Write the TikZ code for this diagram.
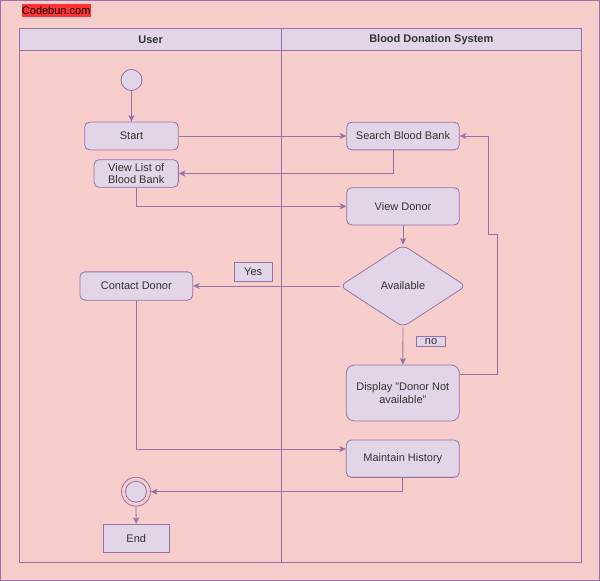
\documentclass[tikz,border=0pt]{standalone}
\usepackage{fontspec}
\setmainfont{Liberation Sans}
\usetikzlibrary{shapes.geometric,arrows.meta,calc}
\definecolor{bgpink}{HTML}{F8CECC}
\definecolor{boxfill}{HTML}{E1D5E7}
\definecolor{boxline}{HTML}{9673A6}
\definecolor{txt}{HTML}{333333}
\definecolor{tagred}{HTML}{FF3333}
\begin{document}
\begin{tikzpicture}[x=1pt,y=-1pt,
  every node/.style={font=\fontsize{11}{13}\selectfont, text=txt},
  act/.style={draw=boxline, fill=boxfill, line width=0.8pt, rounded corners=5pt, align=center, inner sep=1pt},
  decis/.style={draw=boxline, fill=boxfill, line width=0.8pt, diamond, rounded corners=6pt, inner sep=0pt},
  lbl/.style={draw=boxline, fill=boxfill, line width=0.8pt, inner sep=0pt},
  conn/.style={draw=boxline, line width=0.8pt, -{Stealth[length=6.5pt,width=6pt,inset=1.5pt]}},
  plain/.style={draw=boxline, line width=0.8pt}
]
% background
\fill[bgpink] (0,0) rectangle (600,581);
\draw[boxline, line width=0.8pt] (0.5,0.5) rectangle (599.5,580.5);
\useasboundingbox (0,0) rectangle (600,581);

% tag
\node[fill=tagred, text=black, inner sep=0pt, minimum width=69pt, minimum height=12.7pt] (tag) at (56.2,10.4) {Codebun.com};

% swimlanes
\draw[boxline, fill=boxfill, line width=0.8pt] (19.5,28) rectangle (581,50);
\draw[boxline, line width=0.8pt] (19.5,50) rectangle (581,562);
\draw[boxline, line width=0.8pt] (281.7,28) -- (281.7,562);
\node[font=\bfseries\fontsize{11}{13}\selectfont] (laneU) at (150.6,39.5) {User};
\node[font=\bfseries\fontsize{11}{13}\selectfont] (laneS) at (431.3,39.5) {Blood Donation System};

% nodes
\node[circle, draw=boxline, fill=boxfill, line width=0.8pt, minimum size=21pt, inner sep=0pt] (sc) at (131.5,80) {};
\node[act, minimum width=93.6pt, minimum height=28pt] (start) at (131.5,136) {Start};
\node[act, minimum width=84.3pt, minimum height=27.6pt, font=\fontsize{11}{12}\selectfont] (vlist) at (136.2,173.5) {View List of\\Blood Bank};
\node[act, minimum width=112.6pt, minimum height=27.7pt] (search) at (403,136) {Search Blood Bank};
\node[act, minimum width=112.6pt, minimum height=37.3pt] (vdonor) at (403,206.3) {View Donor};
\node[decis, minimum width=126pt, minimum height=82pt] (avail) at (403,286) {Available};
\node[act, minimum width=112.7pt, minimum height=28.3pt] (contact) at (136.3,286) {Contact Donor};
\node[act, minimum width=113pt, minimum height=56pt, rounded corners=8pt, font=\fontsize{11}{13}\selectfont] (display) at (402.8,393) {Display "Donor Not\\available"};
\node[act, minimum width=113pt, minimum height=37.3pt] (maintain) at (402.8,458.7) {Maintain History};
\node[circle, draw=boxline, line width=0.8pt, minimum size=29pt, inner sep=0pt] (final) at (136,491.7) {};
\node[circle, draw=boxline, fill=boxfill, line width=0.8pt, minimum size=21pt, inner sep=0pt] (finalin) at (136,491.7) {};
\node[draw=boxline, fill=boxfill, line width=0.8pt, minimum width=65.7pt, minimum height=28pt] (end) at (136.2,538.3) {End};

% labels
\node[lbl, minimum width=37.7pt, minimum height=19.4pt] (yes) at (253.2,272) {Yes};
\node[lbl, minimum width=29.4pt, minimum height=10pt, text depth=0pt, text height=6pt] (no) at (431,341.7) {no};

% connectors
\draw[conn] (sc) -- (start);
\draw[conn] (start.east) -- (search.west);
\draw[conn] ($(search.south)+(-9.3,0)$) |- (vlist.east);
\draw[conn] (vlist.south) |- (vdonor.west);
\draw[conn] (vdonor) -- (avail);
\draw[conn] (avail.west) -- (contact.east);
\draw[conn] (avail) -- (display);
\coordinate (loopA) at ($(display.north east)+(37.4,9.3)$);
\draw[conn] ($(display.north east)+(0,9.3)$) -- (loopA) -- ++(0,-140) -- ++(-9,0) |- (search.east);
\draw[conn] (contact.south) |- ($(maintain.west)+(0,-9.7)$);
\draw[conn] (maintain.south) |- (final.east);
\draw[conn] (final) -- (end);
\end{tikzpicture}
\end{document}
